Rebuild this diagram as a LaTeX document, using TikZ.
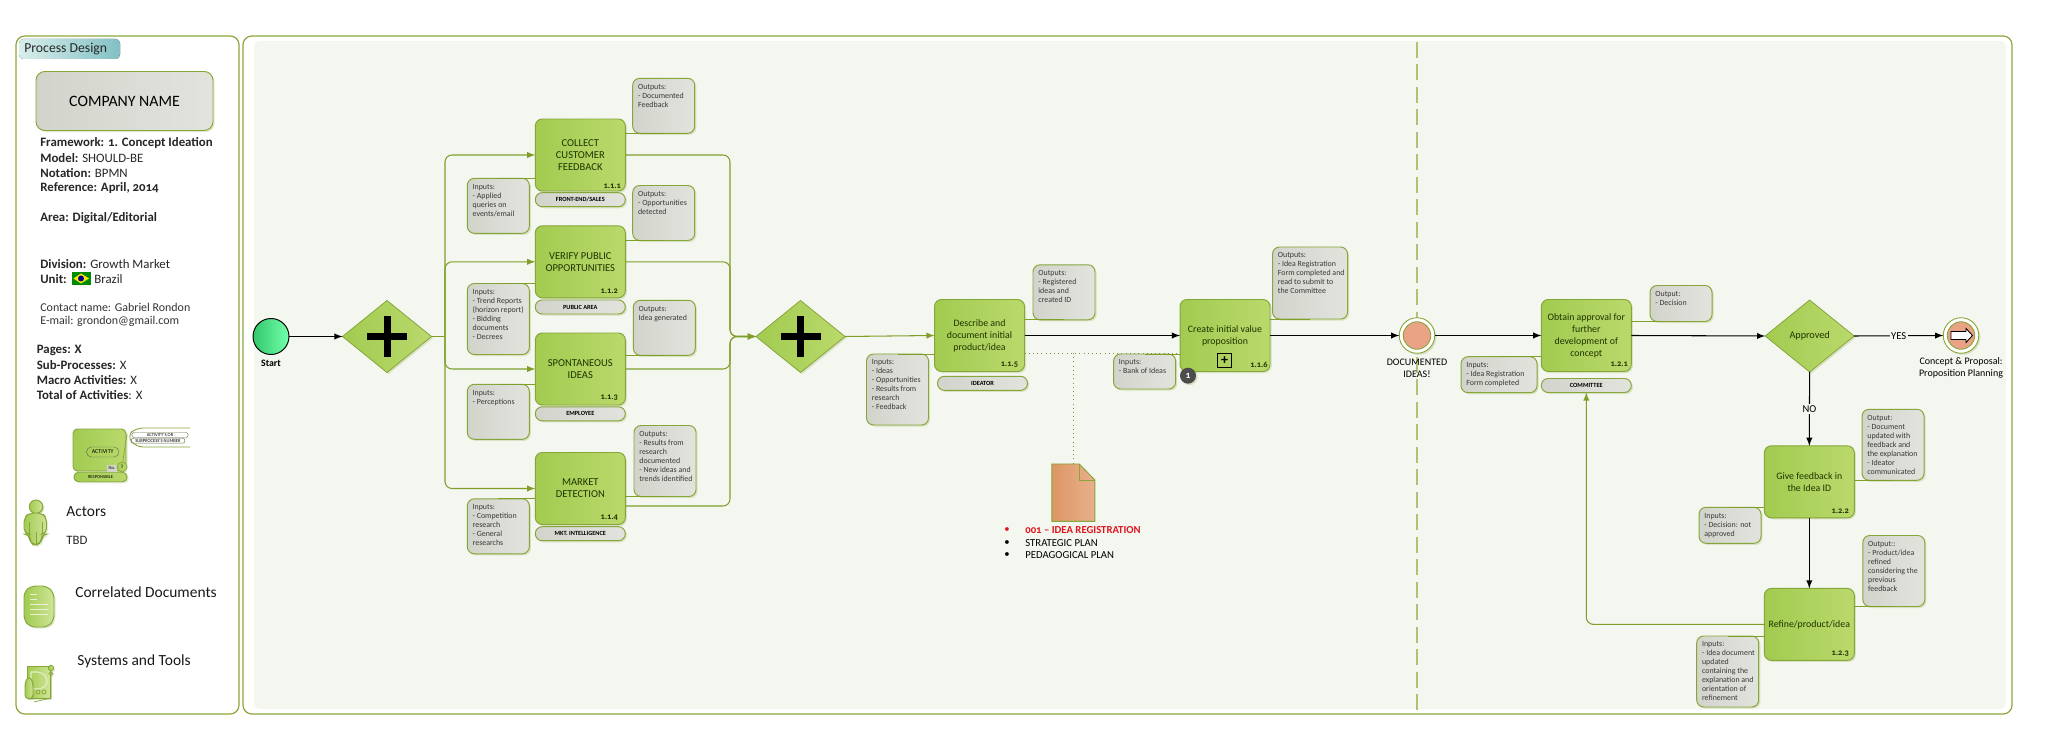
\documentclass[tikz,border=0pt]{standalone}
\usepackage{fontspec}
\setmainfont{Carlito}[Numbers=OldStyle]
\usepackage{tikz}
\usetikzlibrary{positioning}
\usetikzlibrary{shapes.geometric}
\usetikzlibrary{shadows}

\definecolor{panelline}{HTML}{8CA63C}
\definecolor{panelbg}{HTML}{F4F6F0}
\definecolor{taskline}{HTML}{86A63A}
\definecolor{taskleft}{HTML}{A2CB50}
\definecolor{taskright}{HTML}{BAD96C}
\definecolor{noteleft}{HTML}{D2D4CC}
\definecolor{noteright}{HTML}{E2E3DD}
\definecolor{flowgreen}{HTML}{7F9F2A}
\definecolor{textgreen}{HTML}{1F3300}
\definecolor{eventfill}{HTML}{E9A283}
\definecolor{docleft}{HTML}{DD9665}
\definecolor{docright}{HTML}{E8B08C}
\definecolor{redtext}{HTML}{E0141E}
\definecolor{tableft}{HTML}{D8EEEA}
\definecolor{tabright}{HTML}{82C0C4}

\tikzset{
    softshadow/.style={drop shadow={shadow xshift=0.9pt, shadow yshift=-0.9pt, fill=taskline, opacity=0.25}},
    task/.style={draw=taskline, line width=0.55pt, rounded corners=4pt, left color=taskleft, right color=taskright,
        softshadow, minimum width=1.8cm, minimum height=1.44cm, inner sep=0pt, outer sep=0pt, align=center,
        text=textgreen, font=\fontsize{6}{6.8}\selectfont},
    lowertask/.style={task, font=\fontsize{5.6}{6.8}\selectfont},
    note/.style 2 args={draw=taskline, line width=0.55pt, rounded corners=4pt, left color=noteleft, right color=noteright,
        softshadow, minimum width=#1*0.02cm, minimum height=#2*0.02cm, inner sep=0pt, outer sep=0pt},
    notetext/.style={anchor=north west, inner sep=0pt, align=left, text=black!78, font=\fontsize{4.5}{5.1}\selectfont},
    role/.style={draw=taskline, line width=0.55pt, rounded corners=3.9pt, left color=noteleft, right color=noteright,
        softshadow, minimum width=1.8cm, minimum height=0.28cm, inner sep=0pt, outer sep=0pt,
        font=\fontsize{3.6}{4}\selectfont\bfseries},
    tasknum/.style={anchor=east, inner sep=0pt, text=textgreen, font=\fontsize{4.8}{5}\selectfont\bfseries},
    gate/.style={diamond, draw=taskline, line width=0.45pt, aspect=1.24, left color=taskleft, right color=taskright,
        softshadow, minimum width=1.78cm, minimum height=1.44cm, inner sep=0pt, outer sep=0pt},
    plussign/.style={line width=0.14cm, black},
    flow/.style={flowgreen, line width=0.6pt, rounded corners=4pt},
    seqflow/.style={black, line width=0.6pt},
    notelink/.style={flowgreen, line width=0.5pt},
    evt/.style={circle, draw=taskline, fill=white, line width=0.5pt, softshadow, minimum size=0.71cm, inner sep=0pt, outer sep=0pt},
    evtcore/.style={circle, draw=taskline, fill=eventfill, line width=0.5pt, minimum size=0.55cm, inner sep=0pt},
    lab/.style={inner sep=0pt, align=center, font=\fontsize{5.7}{6.8}\selectfont},
    edgelab/.style={fill=panelbg, inner sep=0.8pt, font=\fontsize{6}{6}\selectfont},
    info/.style={anchor=west, inner sep=0pt, text=black!85, font=\fontsize{7.3}{8}\selectfont},
    infosmall/.style={anchor=west, inner sep=0pt, text=black!80, font=\fontsize{6.8}{7}\selectfont},
    infobig/.style={anchor=west, inner sep=0pt, text=black!90, font=\fontsize{8.8}{9}\selectfont},
    doclist/.style={anchor=west, inner sep=0pt, font=\fontsize{6.1}{6}\selectfont},
    icon/.style={draw=taskline, line width=0.55pt, left color=taskleft, right color=taskright!70!white, softshadow},
    legendpill/.style={draw=textgreen!70, line width=0.25pt, rounded corners=1.4pt, inner sep=0pt, outer sep=0pt, font=\fontsize{2.6}{3}\selectfont},
}

\begin{document}
\begin{tikzpicture}[x=0.02cm, y=-0.02cm, >=latex]
                \useasboundingbox (0,0) rectangle (2048,749);

                % Panels
                \draw[panelline, line width=0.7pt, rounded corners=5pt] (16,36) rectangle (239,714);
                \draw[panelline, line width=0.7pt, rounded corners=5pt] (243,36) rectangle (2012,714);
                \fill[panelbg, rounded corners=3pt] (254,41) rectangle (2006,709);
                \draw[panelline!70!white, line width=0.6pt, dash pattern=on 9pt off 3.8pt] (1417,42) -- (1417,710);

                % Left column
                \fill[left color=tableft, right color=tabright, rounded corners=2.5pt] (19,39) rectangle (120,59);
                \node at (24,49) (title) [info, font=\fontsize{7.8}{8}\selectfont] {Process Design};
                \node at (124.5,101) (company) [note={177}{59}, rounded corners=5pt, font=\fontsize{9}{10}\selectfont] {COMPANY NAME};
                \node at (40,143) (framework) [info] {\textbf{Framework: 1. Concept Ideation}};
                \node at (40,158) (model) [info] {\textbf{Model:} SHOULD-BE};
                \node at (40,173) (notation) [info] {\textbf{Notation:} BPMN};
                \node at (40,188) (reference) [info] {\textbf{Reference: April, 2014}};
                \node at (40,218) (area) [info] {\textbf{Area: Digital/Editorial}};
                \node at (40,264) (division) [info] {\textbf{Division:} Growth Market};
                \node at (40,279) (unit) [info] {\textbf{Unit:}};
                \fill[green!55!black] (72,272) rectangle (90.5,285);
                \fill[yellow!90!orange] (73.5,278.5) -- (81,273.5) -- (89,278.5) -- (81,283.5) -- cycle;
                \fill[blue!55!black] (81,278.5) circle (3);
                \node at (94,279) (brazil) [info] {Brazil};
                \node at (40,307) (contact) [infosmall] {Contact name: Gabriel Rondon};
                \node at (40,321) (email) [infosmall] {E-mail: grondon@gmail.com};
                \node at (36.5,350) (pages) [info] {\textbf{Pages: X}};
                \node at (36.5,365) (subproc) [info] {\textbf{Sub-Processes:} X};
                \node at (36.5,380) (macro) [info] {\textbf{Macro Activities:} X};
                \node at (36.5,395) (total) [info] {\textbf{Total of Activities}: X};

                % Legend
                \node at (99.5,450) (legend_task) [task, minimum width=1.06cm, minimum height=0.84cm, rounded corners=2.5pt] {};
                \node at (100.5,477) (legend_role) [role, minimum width=1.06cm, minimum height=0.19cm, left color=taskleft, right color=taskright, rounded corners=2.5pt, font=\fontsize{2.6}{3}\selectfont] {RESPONSIBLE};
                \node at (102.7,452) (legend_act) [legendpill, rounded corners=2.8pt, minimum width=0.65cm, minimum height=0.2cm, font=\fontsize{3.4}{4}\selectfont] {ACTIVITY};
                \node at (112,468.5) (legend_no) [inner sep=0pt, fill=noteleft, minimum width=0.2cm, minimum height=0.14cm, font=\fontsize{2.6}{3}\selectfont] {No.};
                \node at (122,467) (legend_circle) [circle, draw=taskline, left color=taskleft, right color=taskright, minimum size=0.2cm, inner sep=0pt, font=\fontsize{2.6}{3}\selectfont] {3};
                \draw[taskline, line width=0.5pt, fill=white, rounded corners=4pt] (190,428) -- (136,428) -- (127,436) -- (136,447) -- (190,447);
                \node at (160,435) (legend_call1) [legendpill, minimum width=1.13cm, minimum height=0.1cm] {ACTIVITY'S OR};
                \node at (158,440.7) (legend_call2) [legendpill, minimum width=1.08cm, minimum height=0.1cm] {SUBPROCESS'S NUMBER};
                \draw[taskline, line width=0.4pt] (legend_circle) -- (127,434);

                % Actors
                \fill[taskline!25] (37,507.5) circle (6.7);
                \draw[icon] (36,506.7) circle (6.7);
                \draw[icon, rounded corners=3pt] (24,534) -- (24,518) -- (29,513) -- (42,513) -- (46.5,518) -- (46.5,534) -- (42,534) -- (42,540) -- (38,545) -- (33,545) -- (29.5,540) -- (29.5,534) -- cycle;
                \draw[taskline, line width=0.4pt] (29.5,522) -- (29.5,534) (42,522) -- (42,534) (36,532) -- (36,545);
                \node at (66,512) (actors) [infobig] {Actors};
                \node at (66,540) (tbd) [info] {TBD};

                % Documents
                \draw[icon, rounded corners=3pt] (24,592) -- (31,586) -- (47,586) -- (54,593) -- (54,620) -- (48,627) -- (30,627) -- (24,620) -- cycle;
                \draw[white!75!taskleft, line width=0.4pt] (30,594) -- (37,594) (30,599) -- (37,599) (30,604) -- (48,604) (30,609) -- (48,609) (30,614) -- (48,614);
                \node at (75,592) (correlated) [infobig] {Correlated Documents};

                % Systems
                \draw[icon] (27,666) rectangle (50,698);
                \draw[white!70!taskleft, line width=0.6pt] (31,672) -- (38,672) .. controls (50,674) and (50,688) .. (38,689) -- (31,689) -- cycle;
                \draw[icon] (25,687) .. controls (25,675) and (33,675) .. (33,687) -- (33,695) .. controls (33,700) and (25,700) .. (25,695) -- cycle;
                \draw[icon] (51,668) circle (2.6);
                \draw[icon] (51,673.5) circle (1.8);
                \draw[taskline, line width=0.4pt] (38,692) circle (2) (44,692) circle (2);
                \draw[taskline, line width=0.4pt] (51,676) -- (51,698) -- (34,702);
                \node at (77,661) (systems) [infobig] {Systems and Tools};

                % Nodes
                \node at (271,336.5) (start) [circle, draw=black, line width=0.55pt, left color=green!45!teal!80, right color=green!60!cyan!55, minimum size=0.72cm, inner sep=0pt, outer sep=0pt] {};
                \node at (271,363) (start_text) [lab, font=\fontsize{5.6}{6}\selectfont\bfseries] {Start};
                \node at (387,336.5) (gate1) [gate] {};
                \node at (800.5,336.5) (gate2) [gate] {};

                \node at (580.3,155) (collect) [task] {COLLECT\\CUSTOMER\\FEEDBACK};
                \node at (580.3,199.7) (collect_role) [role] {FRONT-END/SALES};
                \node at ([shift={(-4,-5)}]collect.south east) (collect_num) [tasknum] {1.1.1};
                \node at (580.3,261.8) (verify) [task] {VERIFY PUBLIC\\OPPORTUNITIES};
                \node at (580.3,307) (verify_role) [role] {PUBLIC AREA};
                \node at ([shift={(-7,-7)}]verify.south east) (verify_num) [tasknum] {1.1.2};
                \node at (580.3,369) (spontaneous) [task] {SPONTANEOUS\\IDEAS};
                \node at (580.3,413.8) (spontaneous_role) [role] {EMPLOYEE};
                \node at ([shift={(-7,-7)}]spontaneous.south east) (spontaneous_num) [tasknum] {1.1.3};
                \node at (580.3,488.5) (market) [task] {MARKET\\DETECTION};
                \node at (580.3,533.7) (market_role) [role] {MKT. INTELLIGENCE};
                \node at ([shift={(-7,-7)}]market.south east) (market_num) [tasknum] {1.1.4};

                \node at (979.5,335.5) (describe) [lowertask] {Describe and\\document initial\\product/idea};
                \node at (982.5,383.3) (describe_role) [role] {IDEATOR};
                \node at ([shift={(-6,-7)}]describe.south east) (describe_num) [tasknum] {1.1.5};
                \node at (1225,335.5) (create) [lowertask] {Create initial value\\proposition};
                \node at ([shift={(-2,-7)}]create.south east) (create_num) [tasknum] {1.1.6};
                \node at (1224.6,360.3) (create_mark) [draw=black, line width=0.6pt, minimum width=0.29cm, minimum height=0.28cm, inner sep=0pt, font=\fontsize{8}{8}\selectfont\bfseries] {+};
                \node at (1188,375.7) (create_badge) [circle, fill=black!70, text=white, softshadow, minimum size=0.32cm, inner sep=0pt, font=\fontsize{5.5}{6}\selectfont\bfseries] {1};

                \node at (1417,335.5) (documented) [evt] {};
                \node at (1417,335.5) (documented_core) [evtcore] {};
                \node at (1417,368) (documented_text) [lab] {DOCUMENTED\\IDEAS!};

                \node at (1586.3,335.5) (obtain) [lowertask] {Obtain approval for\\further\\development of\\concept};
                \node at (1586.3,385.5) (obtain_role) [role] {COMMITTEE};
                \node at ([shift={(-3,-7)}]obtain.south east) (obtain_num) [tasknum] {1.2.1};

                \node at (1809.6,336) (approved) [gate, font=\fontsize{5.8}{7}\selectfont, text=textgreen] {Approved};
                \node at (1961,335.5) (finish) [evt] {};
                \node at (1961,335.5) (finish_core) [evtcore] {};
                \draw[black, fill=white, line width=0.5pt] (finish.center) +(-10,-4) -- +(5,-4) -- +(5,-7) -- +(11.5,0) -- +(5,7) -- +(5,4) -- +(-10,4) -- cycle;
                \node at (1961,368) (finish_text) [lab] {Concept \& Proposal:\\Proposition Planning};

                \node at (1809.3,481.8) (feedback) [lowertask] {Give feedback in\\the Idea ID};
                \node at ([shift={(-5,-7)}]feedback.south east) (feedback_num) [tasknum] {1.2.2};
                \node at (1809.3,624.4) (refine) [lowertask] {Refine/product/idea};
                \node at ([shift={(-5,-7)}]refine.south east) (refine_num) [tasknum] {1.2.3};

                % Document
                \draw[taskline, line width=0.55pt, left color=docleft, right color=docright] (1051.8,464) -- (1079.3,464) -- (1094.8,480) -- (1094.8,521.3) -- (1051.8,521.3) -- cycle;
                \draw[taskline, line width=0.55pt] (1079.3,464) -- (1079.3,480) -- (1094.8,480);
                \coordinate (doc_top) at (1073.5,464);
                \coordinate (doc_joint) at (1073.5,353);
                \node at (1004,530) (bullet1) [doclist, text=redtext] {\textbullet};
                \node at (1004,542.7) (bullet2) [doclist] {\textbullet};
                \node at (1004,554.7) (bullet3) [doclist] {\textbullet};
                \node at (1025,530) (doc1) [doclist, text=redtext] {\textbf{001 -- IDEA REGISTRATION}};
                \node at (1025,542.7) (doc2) [doclist] {STRATEGIC PLAN};
                \node at (1025,554.7) (doc3) [doclist] {PEDAGOGICAL PLAN};

                % Inputs and outputs
                \node at (663.7,105.8) (collect_out) [note={62}{55}] {};
                \node at ([shift={(5,5.5)}]collect_out.north west) (collect_out_text) [notetext] {Outputs:\\- Documented\\Feedback};
                \node at (498.3,205.8) (collect_in) [note={62}{55}] {};
                \node at ([shift={(5,5.5)}]collect_in.north west) (collect_in_text) [notetext] {Inputs:\\- Applied\\queries on\\events/email};
                \node at (663.7,213) (verify_out) [note={62}{55}] {};
                \node at ([shift={(5,5.5)}]verify_out.north west) (verify_out_text) [notetext] {Outputs:\\- Opportunities\\detected};
                \node at (498.3,319) (verify_in) [note={62}{71}] {};
                \node at ([shift={(5,5.5)}]verify_in.north west) (verify_in_text) [notetext] {Inputs:\\- Trend Reports\\(horizon report)\\- Bidding\\documents\\- Decrees};
                \node at (664.3,327.8) (spontaneous_out) [note={62}{55}] {};
                \node at ([shift={(5,5.5)}]spontaneous_out.north west) (spontaneous_out_text) [notetext] {Outputs:\\Idea generated};
                \node at (498.3,411.8) (spontaneous_in) [note={62}{55}] {};
                \node at ([shift={(5,5.5)}]spontaneous_in.north west) (spontaneous_in_text) [notetext] {Inputs:\\- Perceptions};
                \node at (665,461) (market_out) [note={62}{71}] {};
                \node at ([shift={(5,5.5)}]market_out.north west) (market_out_text) [notetext] {Outputs:\\- Results from\\research\\documented\\- New ideas and\\trends identified};
                \node at (498.3,526.3) (market_in) [note={62}{55}] {};
                \node at ([shift={(5,5.5)}]market_in.north west) (market_in_text) [notetext] {Inputs:\\- Competition\\research\\- General\\researchs};
                \node at (1064,292.3) (describe_out) [note={62}{55}] {};
                \node at ([shift={(5,5.5)}]describe_out.north west) (describe_out_text) [notetext] {Outputs:\\- Registered\\ideas and\\created ID};
                \node at (897.5,389.5) (describe_in) [note={62}{71}] {};
                \node at ([shift={(5,5.5)}]describe_in.north west) (describe_in_text) [notetext] {Inputs:\\- Ideas\\- Opportunities\\- Results from\\research\\- Feedback};
                \node at (1144.6,371.5) (create_in) [note={62}{35}] {};
                \node at ([shift={(5,5.5)}]create_in.north west) (create_in_text) [notetext] {Inputs:\\- Bank of Ideas};
                \node at (1310,283) (create_out) [note={75}{72}] {};
                \node at ([shift={(5,5.5)}]create_out.north west) (create_out_text) [notetext] {Outputs:\\- Idea Registration\\Form completed and\\read to submit to\\the Committee};
                \node at (1499,374.7) (obtain_in) [note={76}{36}] {};
                \node at ([shift={(5,5.5)}]obtain_in.north west) (obtain_in_text) [notetext] {Inputs:\\- Idea Registration\\Form completed};
                \node at (1681,303.5) (obtain_out) [note={62}{36}] {};
                \node at ([shift={(5,5.5)}]obtain_out.north west) (obtain_out_text) [notetext] {Output:\\- Decision};
                \node at (1893,444.8) (feedback_out) [note={62}{71}] {};
                \node at ([shift={(5,5.5)}]feedback_out.north west) (feedback_out_text) [notetext] {Output:\\- Document\\updated with\\feedback and\\the explanation\\- Ideator\\communicated};
                \node at (1730,525.3) (feedback_in) [note={62}{36}] {};
                \node at ([shift={(5,5.5)}]feedback_in.north west) (feedback_in_text) [notetext] {Inputs:\\- Decision: not\\approved};
                \node at (1893.8,571) (refine_out) [note={62}{71}] {};
                \node at ([shift={(5,5.5)}]refine_out.north west) (refine_out_text) [notetext] {Output::\\- Product/idea\\refined\\considering the\\previous\\feedback};
                \node at (1727.7,671.5) (refine_in) [note={62}{71}] {};
                \node at ([shift={(5,5.5)}]refine_in.north west) (refine_in_text) [notetext] {Inputs:\\- Idea document\\updated\\containing the\\explanation and\\orientation of\\refinement};

                % Arrows
                \coordinate (split) at (445,336.5);
                \coordinate (merge) at (730,336.5);
                \coordinate (market_exit) at ([yshift=-0.35cm]market.east);
                \draw[->, seqflow] (start) -- (gate1);
                \draw[flow] (gate1.east) -- (split);
                \draw[->, flow] (split) |- (collect.west);
                \draw[->, flow] (split) |- (verify.west);
                \draw[->, flow] (split) |- (spontaneous.west);
                \draw[->, flow] (split) |- (market.west);
                \draw[->, flow] (collect.east) -| (merge) -- (gate2.west);
                \draw[->, flow] (verify.east) -| (merge) -- (gate2.west);
                \draw[->, flow] (spontaneous.east) -| (merge) -- (gate2.west);
                \draw[->, flow] (market_exit) -| (merge) -- (gate2.west);
                \draw[->, flow] (gate2.east) -- (describe.west);
                \draw[->, seqflow] (describe.east) -- (create.west);
                \draw[->, seqflow] (create.east) -- (documented.west);
                \draw[->, seqflow] (documented.east) -- (obtain.west);
                \draw[->, seqflow] (obtain.east) -- (approved.west);
                \draw[->, seqflow] (approved.east) -- node[edgelab] (yes) {YES} (finish.west);
                \draw[->, seqflow] (approved.south) -- node[edgelab] (no) {NO} (feedback.north);
                \draw[->, seqflow] (feedback.south) -- (refine.north);
                \draw[->, flow] (refine.west) -| (obtain_role.south);

                % Dotted association
                \draw[flowgreen!65!gray, dotted, line width=0.4pt] (describe.east |- doc_joint) -- (create.west |- doc_joint);
                \draw[flowgreen!65!gray, dotted, line width=0.4pt] (doc_joint) -- (doc_top);

                % Note links
                \draw[notelink] (collect.east |- collect_out.south) -- (collect_out.south);
                \draw[notelink] (collect.west |- collect_in.north) -- (collect_in.north);
                \draw[notelink] (verify.east |- verify_out.south) -- (verify_out.south);
                \draw[notelink] (verify.west |- verify_in.north) -- (verify_in.north);
                \draw[notelink] (spontaneous.east |- spontaneous_out.south) -- (spontaneous_out.south);
                \draw[notelink] (spontaneous.west |- spontaneous_in.north) -- (spontaneous_in.north);
                \draw[notelink] (market.east |- market_out.south) -- (market_out.south);
                \draw[notelink] (market.west |- market_in.north) -- (market_in.north);
                \draw[notelink] (describe.east |- describe_out.south) -- (describe_out.south);
                \draw[notelink] (describe.west |- describe_in.north) -- (describe_in.north);
                \draw[notelink] (create.east |- create_out.south) -- (create_out.south);
                \draw[notelink] (create.west |- create_in.north) -- (create_in.north);
                \draw[notelink] (obtain.east |- obtain_out.south) -- (obtain_out.south);
                \draw[notelink] (obtain.west |- obtain_in.north) -- (obtain_in.north);
                \draw[notelink] (feedback.east |- feedback_out.south) -- (feedback_out.south);
                \draw[notelink] (feedback.west |- feedback_in.north) -- (feedback_in.north);
                \draw[notelink] (refine.east |- refine_out.south) -- (refine_out.south);
                \draw[notelink] (refine.west |- refine_in.north) -- (refine_in.north);

                % Plus signs
                \draw[plussign] (gate1.center) +(-20,0) -- +(20,0) +(0,-20.5) -- +(0,20.5);
                \draw[plussign] (gate2.center) +(-20,0) -- +(20,0) +(0,-20.5) -- +(0,20.5);

            \end{tikzpicture}
\end{document}
